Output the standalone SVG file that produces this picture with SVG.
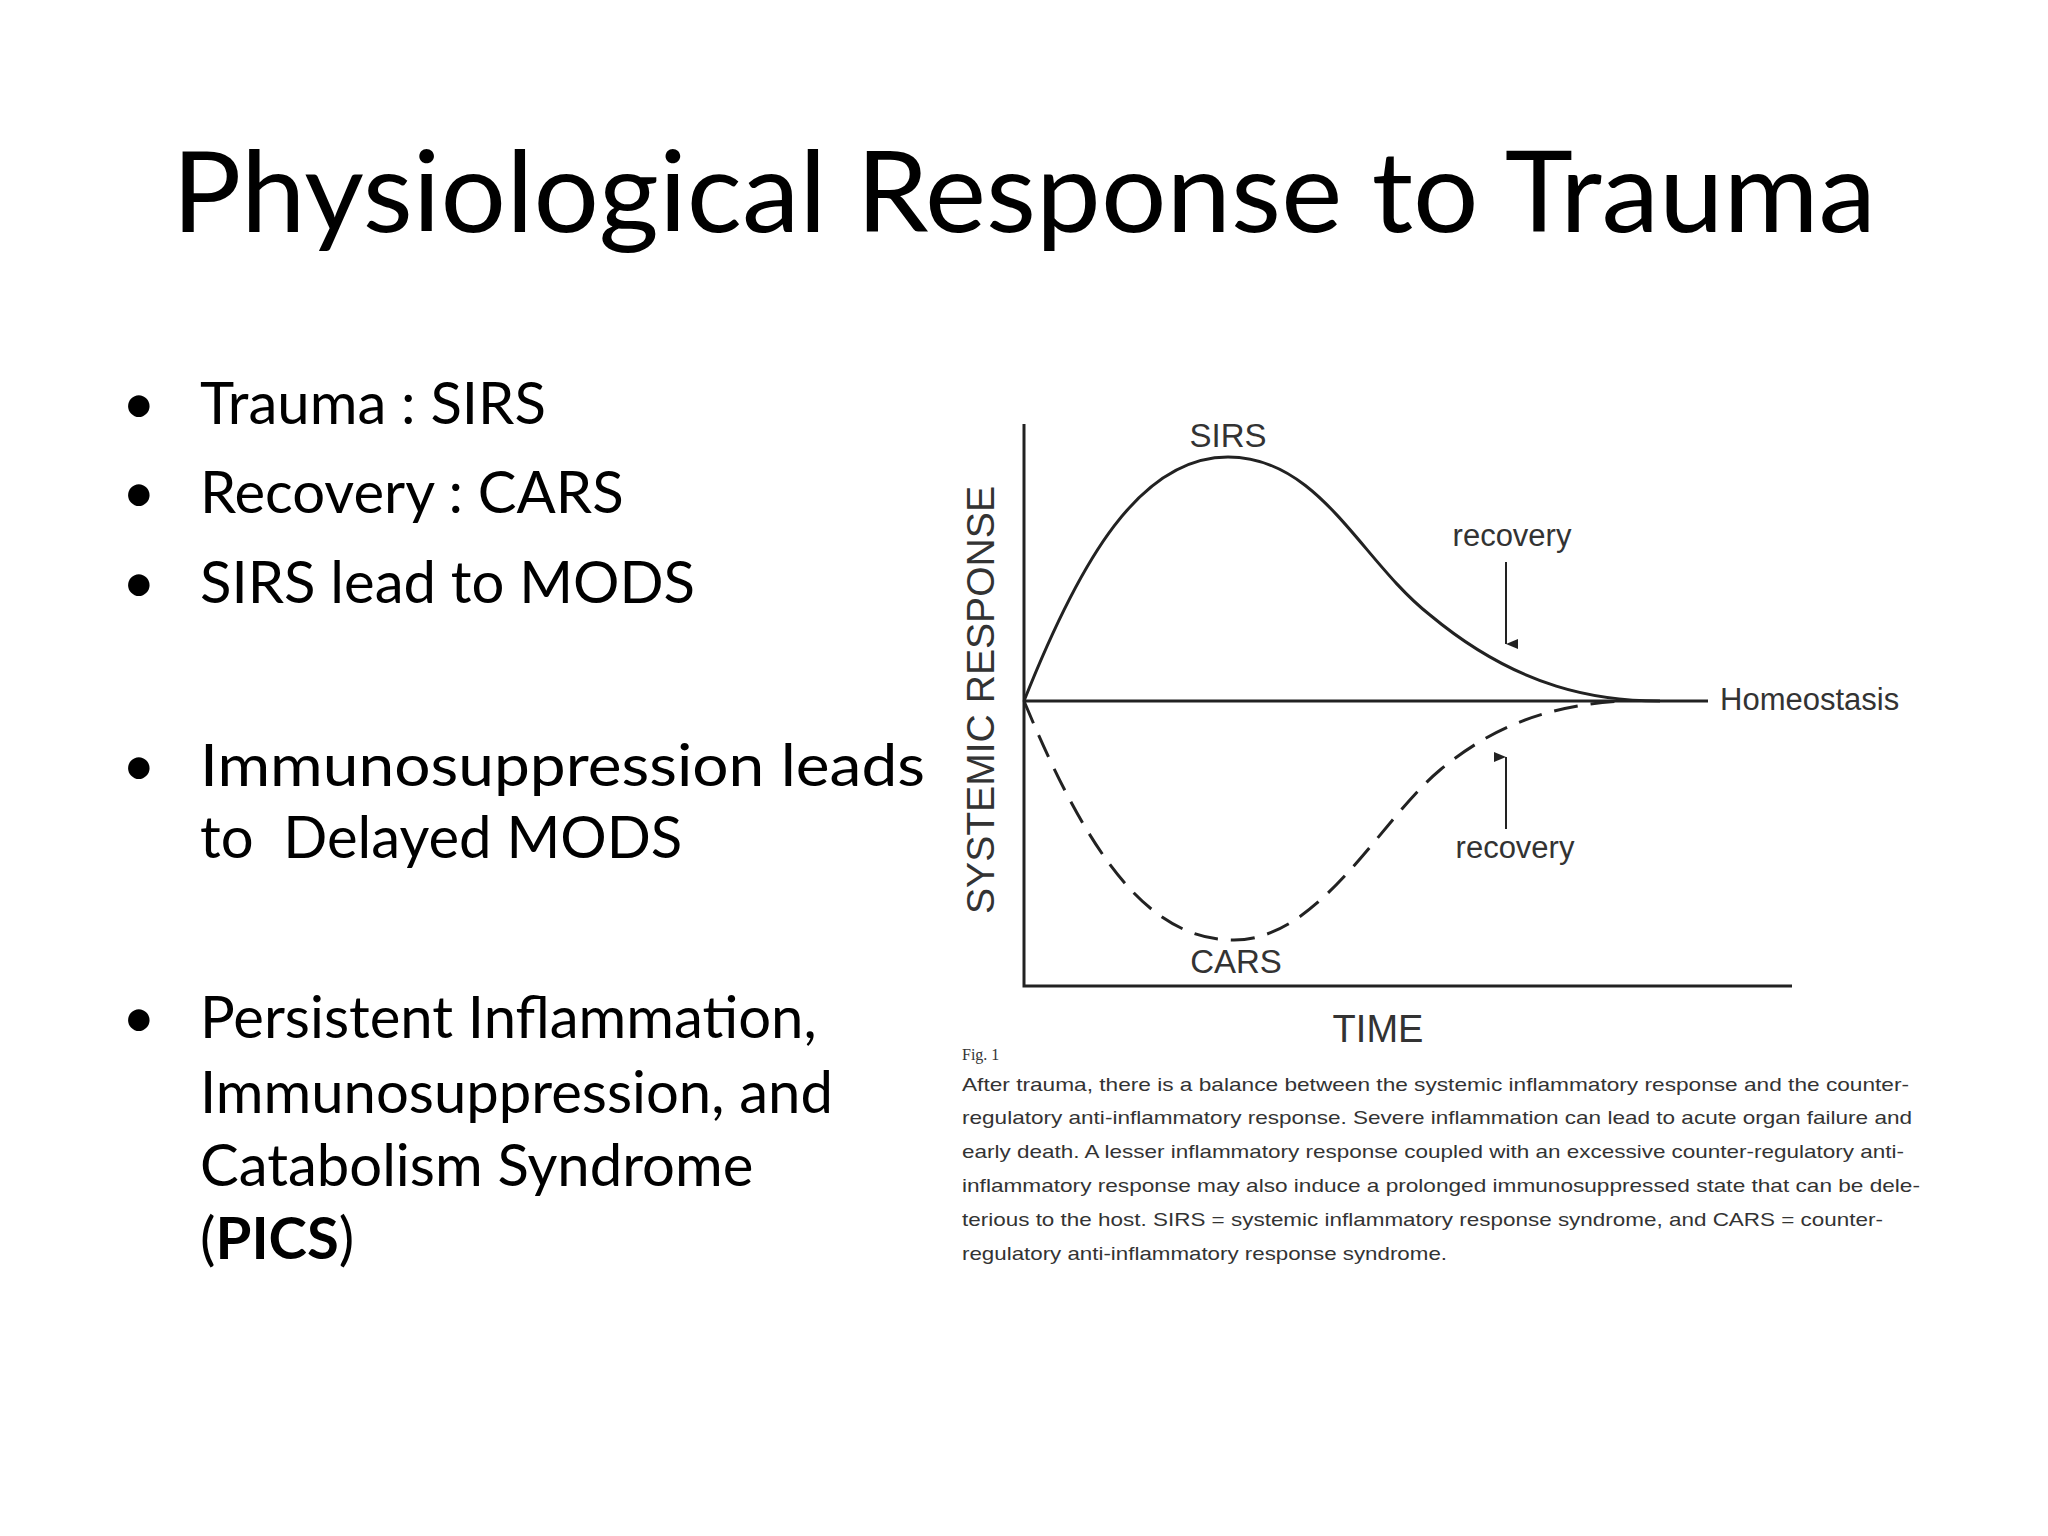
<svg xmlns="http://www.w3.org/2000/svg" width="2048" height="1536" viewBox="0 0 2048 1536">
<style>
.t{font-family:Lato,"Open Sans",sans-serif;fill:#000}
.g{font-family:"Liberation Sans",Arial,sans-serif;fill:#333}
.ln{stroke:#222;stroke-width:3;fill:none}
</style>
<defs><marker id="ah" markerWidth="10" markerHeight="12" refX="5" refY="12" orient="auto" markerUnits="userSpaceOnUse"><path d="M0,0 L5,12 L10,0 Z" fill="#222"/></marker></defs>
<rect width="2048" height="1536" fill="#fff"/>
<text class="t" x="1024" y="232" font-size="112" text-anchor="middle" textLength="1704" lengthAdjust="spacingAndGlyphs">Physiological Response to Trauma</text>
<g id="bullets" class="t" font-size="58">
<text x="122" y="424">•</text><text x="200" y="424">Trauma : SIRS</text>
<text x="122" y="513">•</text><text x="200" y="513">Recovery : CARS</text>
<text x="122" y="603">•</text><text x="200" y="603">SIRS lead to MODS</text>
<text x="122" y="786">•</text><text x="200" y="786" textLength="725" lengthAdjust="spacingAndGlyphs">Immunosuppression leads</text>
<text x="200" y="858" xml:space="preserve">to  Delayed MODS</text>
<text x="122" y="1038">•</text><text x="200" y="1038">Persistent Inflammation,</text>
<text x="200" y="1113">Immunosuppression, and</text>
<text x="200" y="1186">Catabolism Syndrome</text>
<text x="200" y="1259">(<tspan font-weight="bold">PICS</tspan>)</text>
</g>
<g id="axes" class="ln">
<path d="M1024,424 V986 H1792"/>
<path d="M1024,701 H1708"/>
</g>
<g id="connectors">
<path class="ln" d="M1024,701 C1080,560 1140,457 1228,457 C1320,457 1360,560 1430,615 C1520,690 1600,701 1660,701"/>
<path class="ln" stroke-dasharray="24 13" d="M1024,701 C1090,860 1150,940 1234,940 C1320,940 1380,820 1440,770 C1500,720 1560,705 1620,701"/>
<line x1="1506" y1="562" x2="1506" y2="644" stroke="#222" stroke-width="2" marker-end="url(#ah)"/>
<line x1="1506" y1="829" x2="1506" y2="757" stroke="#222" stroke-width="2" marker-end="url(#ah)"/>
</g>
<g id="labels" class="g">
<text x="1228" y="447" font-size="33" text-anchor="middle">SIRS</text>
<text x="1236" y="973" font-size="33" text-anchor="middle">CARS</text>
<text x="1512" y="546" font-size="31" text-anchor="middle">recovery</text>
<text x="1515" y="858" font-size="31" text-anchor="middle">recovery</text>
<text x="1720" y="710" font-size="31">Homeostasis</text>
<text x="1378" y="1042" font-size="38" text-anchor="middle">TIME</text>
<text transform="translate(994,700) rotate(-90)" font-size="38" text-anchor="middle" textLength="428" lengthAdjust="spacingAndGlyphs">SYSTEMIC RESPONSE</text>
</g>
<g id="caption" class="g" font-size="19">
<text x="962" y="1060" font-family="Liberation Serif,serif" font-size="16">Fig. 1</text>
<text x="962" y="1091" textLength="947" lengthAdjust="spacingAndGlyphs">After trauma, there is a balance between the systemic inflammatory response and the counter-</text>
<text x="962" y="1124" textLength="950" lengthAdjust="spacingAndGlyphs">regulatory anti-inflammatory response. Severe inflammation can lead to acute organ failure and</text>
<text x="962" y="1158" textLength="942" lengthAdjust="spacingAndGlyphs">early death. A lesser inflammatory response coupled with an excessive counter-regulatory anti-</text>
<text x="962" y="1192" textLength="958" lengthAdjust="spacingAndGlyphs">inflammatory response may also induce a prolonged immunosuppressed state that can be dele-</text>
<text x="962" y="1226" textLength="921" lengthAdjust="spacingAndGlyphs">terious to the host. SIRS = systemic inflammatory response syndrome, and CARS = counter-</text>
<text x="962" y="1260" textLength="485" lengthAdjust="spacingAndGlyphs">regulatory anti-inflammatory response syndrome.</text>
</g>
</svg>
